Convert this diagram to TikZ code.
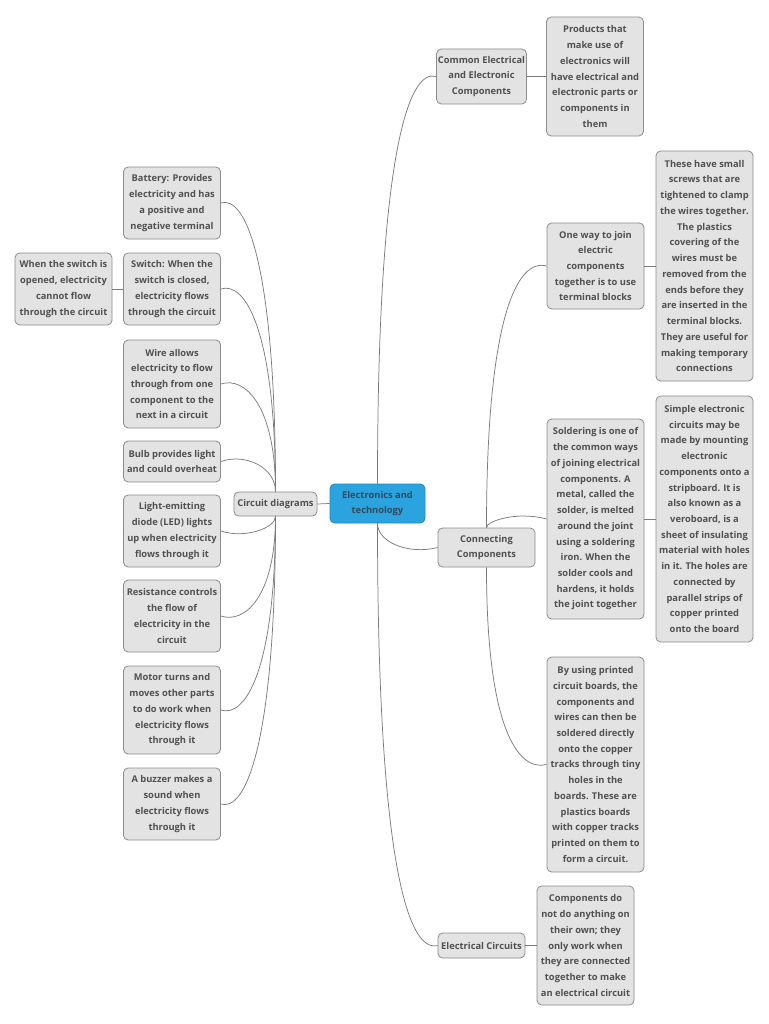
\documentclass[tikz,border=0pt]{standalone}
\usepackage{fontspec}
\setmainfont{Open Sans}
\definecolor{boxfill}{HTML}{E3E3E3}
\definecolor{boxline}{HTML}{8C8C8C}
\definecolor{txtcol}{HTML}{505050}
\definecolor{conncol}{HTML}{7A7A7A}
\definecolor{rootfill}{HTML}{2BA3DE}
\definecolor{rootline}{HTML}{1E8AC2}
\definecolor{roottxt}{HTML}{2E4A5E}
\begin{document}
\begin{tikzpicture}[x=0.75pt,y=-0.75pt,
  leaf/.style={draw=boxline, fill=boxfill, rounded corners=3.5pt, line width=0.6pt, text=txtcol, align=center,
    font=\fontsize{7}{11.8}\selectfont\bfseries, inner xsep=1pt, inner ysep=1pt, minimum width=72.75pt},
  rootbox/.style={leaf, draw=rootline, fill=rootfill, text=roottxt, minimum width=71.25pt, minimum height=29.25pt},
  link/.style={draw=conncol, line width=0.55pt}]
\fill[white] (0,0) rectangle (768,1024);
\useasboundingbox (0,0) rectangle (768,1024);

% ---- nodes ----
\node[rootbox] (root) at (377.5,503.5) {Electronics and\\technology};
\node[leaf, minimum width=62.25pt, minimum height=18pt] (cd) at (275.5,504) {Circuit diagrams};

\node[leaf, minimum height=54pt] (bat) at (172,203) {Battery: Provides\\electricity and has\\a positive and\\negative terminal};
\node[leaf, minimum height=54pt] (sw) at (172,289) {Switch: When the\\switch is closed,\\electricity flows\\through the circuit};
\node[leaf, minimum height=54pt] (swo) at (63.5,289) {When the switch is\\opened, electricity\\cannot flow\\through the circuit};
\node[leaf, minimum height=66pt] (wire) at (172,384) {Wire allows\\electricity to flow\\through from one\\component to the\\next in a circuit};
\node[leaf, minimum height=30.75pt] (bulb) at (172,461.5) {Bulb provides light\\and could overheat};
\node[leaf, minimum height=54pt] (led) at (172,531) {Light-emitting\\diode (LED) lights\\up when electricity\\flows through it};
\node[leaf, minimum height=54pt] (res) at (172,616) {Resistance controls\\the flow of\\electricity in the\\circuit};
\node[leaf, minimum height=66pt] (mot) at (172,710) {Motor turns and\\moves other parts\\to do work when\\electricity flows\\through it};
\node[leaf, minimum height=54pt] (buz) at (172,804) {A buzzer makes a\\sound when\\electricity flows\\through it};

\node[leaf, minimum width=65.25pt, minimum height=41.25pt] (cec) at (481.5,76.5) {Common Electrical\\and Electronic\\Components};
\node[leaf, minimum height=89.25pt] (prod) at (595,76.5) {Products that\\make use of\\electronics will\\have electrical and\\electronic parts or\\components in\\them};

\node[leaf, minimum height=29.25pt] (cc) at (486.5,547.5) {Connecting\\Components};
\node[leaf, minimum height=64.5pt] (way) at (595.5,266) {One way to join\\electric\\components\\together is to use\\terminal blocks};
\node[leaf, minimum height=172.5pt] (scr) at (704.5,266) {These have small\\screws that are\\tightened to clamp\\the wires together.\\The plastics\\covering of the\\wires must be\\removed from the\\ends before they\\are inserted in the\\terminal blocks.\\They are useful for\\making temporary\\connections};
\node[leaf, minimum height=150pt] (sold) at (595.5,519) {Soldering is one of\\the common ways\\of joining electrical\\components. A\\metal, called the\\solder, is melted\\around the joint\\using a soldering\\iron. When the\\solder cools and\\hardens, it holds\\the joint together};
\node[leaf, minimum height=184.5pt] (strip) at (704.5,519) {Simple electronic\\circuits may be\\made by mounting\\electronic\\components onto a\\stripboard. It is\\also known as a\\veroboard, is a\\sheet of insulating\\material with holes\\in it. The holes are\\connected by\\parallel strips of\\copper printed\\onto the board};
\node[leaf, minimum height=161.25pt] (pcb) at (595.5,764.5) {By using printed\\circuit boards, the\\components and\\wires can then be\\soldered directly\\onto the copper\\tracks through tiny\\holes in the\\boards. These are\\plastics boards\\with copper tracks\\printed on them to\\form a circuit.};

\node[leaf, minimum width=65.25pt, minimum height=18.75pt] (ec) at (481.5,945.5) {Electrical Circuits};
\node[leaf, minimum height=89.25pt] (comp) at (585.5,945.5) {Components do\\not do anything on\\their own; they\\only work when\\they are connected\\together to make\\an electrical circuit};

% ---- connectors ----
\begin{scope}[on background layer/.try]
\draw[link] (root.west) -- (cd.east);
\draw[link] (sw.west) -- (swo.east);
\draw[link] (cec.east) -- (prod.west);
\draw[link] (way.east) -- (scr.west);
\draw[link] (sold.east) -- (strip.west);
\draw[link] (ec.east) -- (comp.west);

% circuit diagram children
\draw[link] (cd.north) .. controls (275.5,261) and (245,195) .. (bat.east);
\draw[link] (cd.north) .. controls (275.5,330) and (245,281) .. (sw.east);
\draw[link] (cd.north) .. controls (275.5,406) and (245,376) .. (wire.east);
\draw[link] (cd.north) .. controls (275.5,467) and (245,453) .. (bulb.east);
\draw[link] (cd.south) .. controls (275.5,528) and (245,539) .. (led.east);
\draw[link] (cd.south) .. controls (275.5,596) and (245,624) .. (res.east);
\draw[link] (cd.south) .. controls (275.5,671) and (245,718) .. (mot.east);
\draw[link] (cd.south) .. controls (275.5,746) and (245,812) .. (buz.east);

% root right children
\draw[link] (root.north) .. controls (377.5,158) and (408,68) .. (cec.west);
\draw[link] (root.south) .. controls (377.5,542) and (408,555) .. (cc.west);
\draw[link] (root.south) .. controls (377.5,861) and (408,953) .. (ec.west);

% connecting components children
\draw[link] (cc.north) .. controls (486.5,318) and (517,258) .. (way.west);
\draw[link] (cc.north) .. controls (486.5,521) and (517,511) .. (sold.west);
\draw[link] (cc.south) .. controls (486.5,725) and (517,772) .. (pcb.west);
\end{scope}
\end{tikzpicture}
\end{document}
